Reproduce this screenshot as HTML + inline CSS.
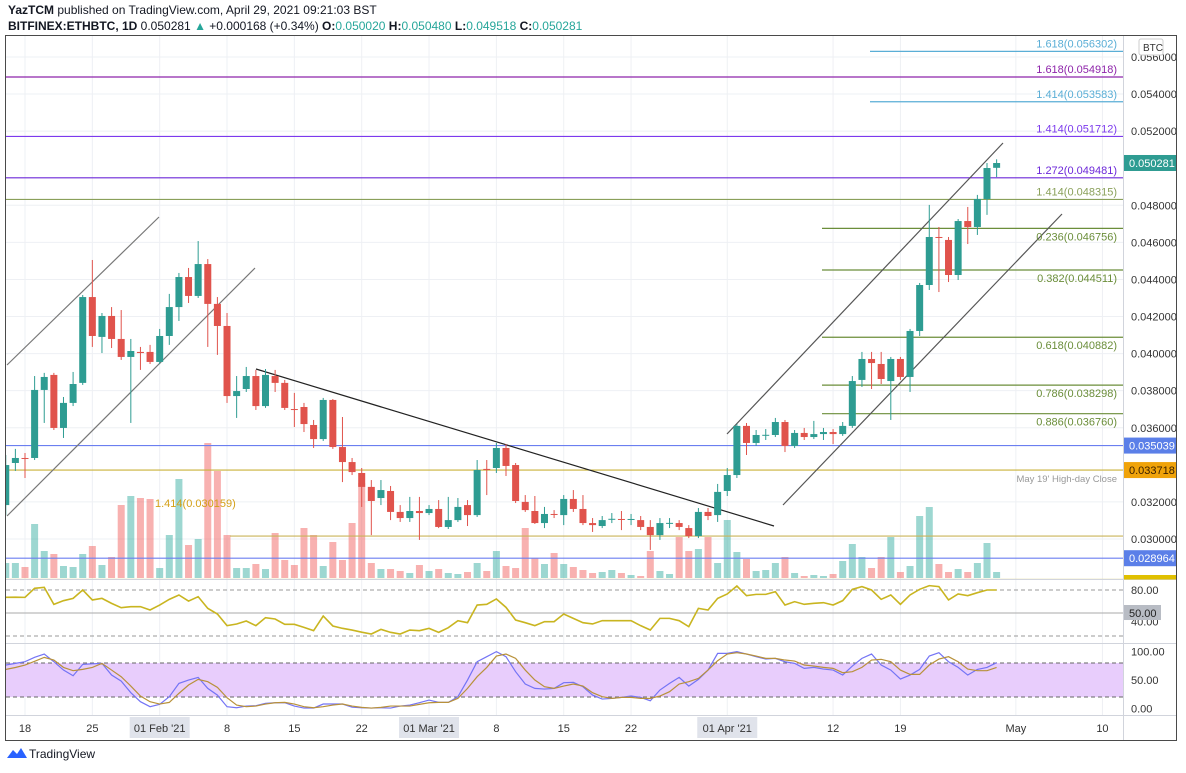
<!DOCTYPE html>
<html><head><meta charset="utf-8"><style>
html,body{margin:0;padding:0;background:#fff;}
body{width:1186px;height:768px;overflow:hidden;font-family:"Liberation Sans",sans-serif;}
svg text{font-family:"Liberation Sans",sans-serif;}
</style></head><body>
<svg id="chart" width="1186" height="768" viewBox="0 0 1186 768" xmlns="http://www.w3.org/2000/svg">
<rect x="0" y="0" width="1186" height="768" fill="#fff"/>
<text x="8" y="14" font-size="12" fill="#131722"><tspan font-weight="bold">YazTCM</tspan> published on TradingView.com, April 29, 2021 09:21:03 BST</text>
<text x="8" y="30" font-size="12" fill="#131722"><tspan font-weight="bold">BITFINEX:ETHBTC, 1D</tspan> 0.050281 <tspan fill="#26a69a">▲</tspan> +0.000168 (+0.34%) <tspan font-weight="bold">O:</tspan><tspan fill="#26a69a">0.050020</tspan> <tspan font-weight="bold">H:</tspan><tspan fill="#26a69a">0.050480</tspan> <tspan font-weight="bold">L:</tspan><tspan fill="#26a69a">0.049518</tspan> <tspan font-weight="bold">C:</tspan><tspan fill="#26a69a">0.050281</tspan></text>
<defs><clipPath id="mainClip"><rect x="6" y="36" width="1117" height="543"/></clipPath>
<clipPath id="rsiClip"><rect x="6" y="580" width="1117" height="63"/></clipPath>
<clipPath id="stClip"><rect x="6" y="644" width="1117" height="70"/></clipPath></defs>
<g id="grid"></g>
<g id="main" clip-path="url(#mainClip)"></g>
<g id="rsi" clip-path="url(#rsiClip)"></g>
<g id="stoch" clip-path="url(#stClip)"></g>
<g id="axes"></g>
<rect x="5.5" y="35.5" width="1171" height="705" fill="none" stroke="#4a4a4a" stroke-width="1"/>
<g>
<path d="M7 758 L13 750 L17 754 L21 748 L27 758 Z" fill="#2962ff"/>
<text x="29" y="758" font-size="12" fill="#131722">TradingView</text>
</g>
</svg>
<script>
const firstDay = -2; // index of first candle relative to 18 Jan 2021
const opens = [0.03183,0.03410,0.03437,0.03437,0.03804,0.03885,0.03599,0.03734,0.03842,0.04305,0.04090,0.04203,0.04079,0.03982,0.04009,0.04009,0.03955,0.04095,0.04251,0.04413,0.04311,0.04483,0.04268,0.04149,0.03771,0.03809,0.03879,0.03717,0.03879,0.03842,0.03701,0.03712,0.03615,0.03539,0.03750,0.03496,0.03415,0.03356,0.03281,0.03221,0.03259,0.03146,0.03113,0.03151,0.03140,0.03162,0.03065,0.03102,0.03183,0.03129,0.03378,0.03383,0.03491,0.03399,0.03200,0.03151,0.03086,0.03135,0.03129,0.03216,0.03162,0.03086,0.03070,0.03108,0.03108,0.03108,0.03102,0.03065,0.03021,0.03086,0.03086,0.03059,0.03016,0.03146,0.03129,0.03259,0.03345,0.03610,0.03518,0.03561,0.03561,0.03631,0.03502,0.03572,0.03550,0.03566,0.03577,0.03566,0.03610,0.03858,0.03971,0.03944,0.03852,0.03971,0.03874,0.04122,0.04370,0.04629,0.04613,0.04424,0.04715,0.04683,0.04834,0.05002];
const highs = [0.03453,0.03486,0.03464,0.03879,0.03896,0.03896,0.03766,0.03901,0.04316,0.04505,0.04219,0.04251,0.04235,0.04079,0.04036,0.04047,0.04133,0.04322,0.04435,0.04462,0.04607,0.04510,0.04305,0.04219,0.03879,0.03928,0.03912,0.03917,0.03912,0.03858,0.03788,0.03734,0.03642,0.03761,0.03755,0.03658,0.03437,0.03383,0.03318,0.03318,0.03286,0.03183,0.03227,0.03227,0.03183,0.03210,0.03227,0.03221,0.03210,0.03426,0.03426,0.03518,0.03512,0.03410,0.03237,0.03232,0.03173,0.03156,0.03237,0.03264,0.03237,0.03113,0.03124,0.03140,0.03151,0.03135,0.03124,0.03102,0.03113,0.03113,0.03102,0.03075,0.03167,0.03167,0.03297,0.03383,0.03620,0.03626,0.03588,0.03593,0.03653,0.03642,0.03588,0.03599,0.03637,0.03599,0.03593,0.03631,0.03879,0.04009,0.04009,0.04009,0.03982,0.03982,0.04133,0.04381,0.04802,0.04683,0.04629,0.04726,0.04791,0.04856,0.05028,0.05048];
const lows = [0.03129,0.03367,0.03329,0.03426,0.03626,0.03588,0.03545,0.03717,0.03831,0.04036,0.04003,0.04030,0.03966,0.03626,0.03912,0.03944,0.03944,0.04047,0.04176,0.04273,0.04300,0.04036,0.03993,0.03734,0.03653,0.03793,0.03696,0.03707,0.03793,0.03696,0.03604,0.03577,0.03491,0.03529,0.03486,0.03307,0.03345,0.03173,0.03021,0.03183,0.03102,0.03092,0.03092,0.02995,0.03129,0.03059,0.03054,0.03092,0.03070,0.03119,0.03237,0.03356,0.03340,0.03194,0.03146,0.03081,0.03059,0.03113,0.03075,0.03146,0.03075,0.03038,0.03059,0.03086,0.03048,0.03075,0.03048,0.02941,0.02995,0.03059,0.03048,0.03005,0.03005,0.03102,0.03092,0.03232,0.03329,0.03453,0.03502,0.03534,0.03550,0.03469,0.03491,0.03534,0.03539,0.03534,0.03512,0.03556,0.03599,0.03820,0.03809,0.03836,0.03642,0.03858,0.03793,0.04095,0.04343,0.04332,0.04386,0.04397,0.04591,0.04640,0.04748,0.04952];
const closes = [0.03399,0.03437,0.03435,0.03804,0.03874,0.03599,0.03734,0.03836,0.04305,0.04095,0.04203,0.04079,0.03982,0.04014,0.04003,0.03955,0.04095,0.04251,0.04413,0.04311,0.04483,0.04268,0.04149,0.03771,0.03798,0.03879,0.03717,0.03885,0.03842,0.03707,0.03700,0.03620,0.03539,0.03750,0.03496,0.03415,0.03361,0.03281,0.03205,0.03264,0.03146,0.03113,0.03151,0.03140,0.03162,0.03065,0.03102,0.03173,0.03129,0.03372,0.03375,0.03491,0.03394,0.03205,0.03156,0.03086,0.03135,0.03133,0.03216,0.03162,0.03086,0.03075,0.03102,0.03109,0.03107,0.03108,0.03065,0.03021,0.03086,0.03087,0.03065,0.03016,0.03146,0.03124,0.03254,0.03345,0.03610,0.03518,0.03561,0.03562,0.03631,0.03502,0.03572,0.03550,0.03566,0.03577,0.03566,0.03610,0.03852,0.03971,0.03949,0.03863,0.03971,0.03874,0.04122,0.04370,0.04629,0.04627,0.04424,0.04715,0.04683,0.04834,0.05001,0.05028];
const volumes = [15,15,11,54,27,24,12,11,24,32,13,21,73,82,80,79,10,43,99,33,39,135,107,43,10,10,14,9,45,18,13,50,43,12,36,18,55,95,15,9,9,7,5,13,7,9,5,4,6,15,7,27,12,10,50,20,14,25,14,11,8,5,6,8,5,3,2,27,7,4,41,27,29,41,15,58,26,19,7,8,15,21,5,2,3,2,4,17,34,21,10,21,41,6,12,62,71,14,6,9,6,15,35,6];
const rsiValues = [70.4,70.6,70.4,82.2,83.5,61.3,66.1,69.1,80.0,67.0,69.1,62.6,56.9,58.3,58.3,53.9,60.4,67.8,73.5,65.6,71.3,56.1,48.7,33.5,35.7,39.6,33.5,43.9,42.2,35.2,35.2,31.3,27.0,46.1,33.1,30.0,27.8,25.0,22.6,28.7,24.8,22.6,27.8,27.0,30.0,24.8,30.9,40.0,37.4,60.4,61.3,68.3,57.4,40.9,37.4,33.5,38.7,38.7,48.7,43.0,37.4,35.7,40.0,40.0,40.0,40.0,33.5,27.8,43.0,43.0,40.0,32.2,56.1,53.9,69.1,74.8,85.2,72.6,74.3,74.3,77.8,60.4,64.8,61.3,62.6,63.5,60.4,66.1,80.9,84.4,80.0,67.8,73.5,61.3,73.5,80.9,85.7,84.4,67.0,74.8,72.6,76.5,80.0,80.0];
const stochK = [76.4,79.3,82.2,90,95.8,82.2,67.5,57.5,77.5,78.5,79.3,58.7,48.1,27.6,11.7,2.9,7.0,20.5,44.0,49.9,54.6,35.2,23.4,2.9,1.1,4.0,4.6,8.7,9.9,9.9,4.0,0.5,0.5,7.6,7.6,7.6,2.0,1.1,0.5,1.1,0.5,4.0,5.8,9.9,14.6,10.5,10.5,20.5,49.9,82.2,91.1,100,91.1,64.6,42.9,35.2,34.0,35.2,45.2,45.8,38.1,23.4,16.4,17.6,19.3,21.7,19.3,13.4,32.3,44.0,54.6,39.3,51.1,67.5,96.9,96.9,100,95.8,91.1,87.0,88.1,82.2,79.3,70.5,72.2,69.3,67.5,58.7,74.6,88.1,95.8,76.4,67.5,51.7,58.7,68.7,92.2,98.1,82.2,72.2,58.7,68.7,72.2,80.5];
const stochD = [68.7,72,76.4,83,89.9,85.2,72.2,66.4,68.7,72.2,79.3,67.5,55.8,39.3,21.7,11.7,7.6,10.5,26.4,41.1,51.1,47.0,37.0,18.7,5.8,2.9,4.0,7.6,9.9,10.5,7.6,2.9,1.1,2.9,5.8,7.6,4.0,1.7,0.5,1.7,4.0,4.0,4.0,7.0,9.9,10.5,10.5,17.6,35.2,55.8,72.2,92.2,95.8,88.1,67.5,49.9,38.1,35.2,39.3,42.9,39.3,27.6,20.5,17.6,19.3,19.3,17.6,17.6,21.7,29.3,42.9,47.0,52.8,67.5,84.0,95.8,98.1,95.8,92.2,88.1,88.1,85.2,83.4,76.4,74.6,72.2,70.5,62.8,64.6,72.2,85.2,86.4,82.2,67.5,59.9,59.9,76.4,86.9,91.1,82.2,69.3,66.4,66.4,72.2];
const priceTicks = [0.056,0.054,0.052,0.048,0.046,0.044,0.042,0.040,0.038,0.036,0.032,0.030];
const timeTickDays = [0,7,14,21,28,35,42,49,56,63,73,84,91,103,112];
const timeTickLabels = ['18','25',"01 Feb '21",'8','15','22',"01 Mar '21",'8','15','22',"01 Apr '21",'12','19','May','10'];
const fibLevels = [0.056302,0.054918,0.053583,0.051712,0.049481,0.048315,0.046756,0.044511,0.040882,0.038298,0.036760];
const fibNames = ['1.618','1.618','1.414','1.414','1.272','1.414','0.236','0.382','0.618','0.786','0.886'];

const NS='http://www.w3.org/2000/svg';
const xOf = d => 25 + 9.62*d;
const yP = p => 539 - (p-0.030)/0.002*37.08;
const yV = v => 578 - v;
const yR = v => 590 + (80-v)*0.767;
const yS = v => 697 - (v-20)*0.567;
function mk(tag, attrs, parent, txt){
  const e=document.createElementNS(NS,tag);
  for(const k in attrs) e.setAttribute(k,attrs[k]);
  if(txt!==undefined) e.textContent=txt;
  parent.appendChild(e); return e;
}
const grid=document.getElementById('grid'), main=document.getElementById('main'),
      rsi=document.getElementById('rsi'), st=document.getElementById('stoch'), axes=document.getElementById('axes');

// grid
timeTickDays.forEach(d=>{ const g=mk('line',{x1:xOf(d),x2:xOf(d),y1:36,y2:715,stroke:'#eef0f4','stroke-width':1},grid);
  });
priceTicks.forEach(p=>{ const g=mk('line',{x1:6,x2:1123,y1:yP(p),y2:yP(p),stroke:'#eef0f4','stroke-width':1},grid);
  });

// volume
volumes.forEach((v,i)=>{ const d=firstDay+i; const up=closes[i]>=opens[i];
 const r=mk('rect',{x:xOf(d)-3.5,y:yV(v),width:7,height:v,fill:up?'rgba(38,166,154,0.45)':'rgba(239,83,80,0.45)'},main);
   });

// horizontal lines
function hline(p,x1,color,name,w){ const l=mk('line',{x1:x1,x2:1123,y1:yP(p),y2:yP(p),stroke:color,'stroke-width':w||1.2},main);
   return l; }
const fibColors=['#5aaed6','#8e24aa','#5aaed6','#7c3aed','#6d28d9','#8aa05a','#6b8e3a','#6b8e3a','#6b8e3a','#6b8e3a','#6b8e3a'];
const fibStart=[870,6,870,6,6,6,822,822,822,822,822];
fibLevels.forEach((p,i)=>{ hline(p,fibStart[i],fibColors[i],'fib-level-line');
 const below=i>=6; const t=mk('text',{x:1117,y:below?yP(p)+12:yP(p)-4,'font-size':11,fill:fibColors[i],'text-anchor':'end'},axes,fibNames[i]+'('+p.toFixed(6)+')');
   });
hline(0.035039,6,'#6b7ff0','support-line-035039');
hline(0.033718,6,'#c9b23a','may19-high-close-line');
hline(0.030159,230,'#c9b45a','fib-1414-030159-line');
hline(0.028964,6,'#6b7ff0','support-line-028964');
hline(0.027815,6,'#c9b23a','support-line-027815');
{const t=mk('text',{x:1117,y:yP(0.033718)+12,'font-size':9.5,fill:'#999','text-anchor':'end'},axes,"May 19' High-day Close");
 }
{const t=mk('text',{x:155,y:507,'font-size':11,fill:'#d4a017'},main,'1.414(0.030159)');
 }

// trendlines
[[7,365,159,217,'#777'],[7,516,255,268,'#777'],[256,369,774,526,'#222'],[727,434,1003,143,'#555'],[783,505,1062,214,'#555']].forEach(s=>{
 const l=mk('line',{x1:s[0],y1:s[1],x2:s[2],y2:s[3],stroke:s[4],'stroke-width':1.2},main);
   });

// candles
opens.forEach((o,i)=>{ const d=firstDay+i, c=closes[i], up=c>=o, col=up?'#2e9c92':'#e0534c', x=xOf(d);
 const w=mk('line',{x1:x,x2:x,y1:yP(highs[i]),y2:yP(lows[i]),stroke:col,'stroke-width':1},main);
  
 const top=yP(Math.max(o,c)), bot=yP(Math.min(o,c));
 const b=mk('rect',{x:x-3.5,y:top,width:7,height:Math.max(1,bot-top),fill:col},main);
   });

// RSI pane
[[80,'4 3','#999'],[50,'','#aaa'],[20,'4 3','#999']].forEach(a=>{ const l=mk('line',{x1:6,x2:1123,y1:yR(a[0]),y2:yR(a[0]),stroke:a[2],'stroke-dasharray':a[1]},rsi);
   });
{const pts=rsiValues.map((v,i)=>xOf(firstDay+i)+','+yR(v)).join(' ');
 const l=mk('polyline',{points:pts,fill:'none',stroke:'#c9b520','stroke-width':1.6},rsi);
  }

// Stoch pane
{const r=mk('rect',{x:6,y:yS(80),width:1117,height:yS(20)-yS(80),fill:'#e8cdfc'},st);
 }
[80,20].forEach(v=>{ const l=mk('line',{x1:6,x2:1123,y1:yS(v),y2:yS(v),stroke:'#666','stroke-dasharray':'4 3'},st);
   });
{const l=mk('polyline',{points:stochK.map((v,i)=>xOf(firstDay+i)+','+yS(v)).join(' '),fill:'none',stroke:'#7474f5','stroke-width':1.2},st);
  }
{const l=mk('polyline',{points:stochD.map((v,i)=>xOf(firstDay+i)+','+yS(v)).join(' '),fill:'none',stroke:'#b8913a','stroke-width':1.2},st);
  }

// separators
[[6,1177,579.5,579.5],[6,1177,643.5,643.5],[6,1177,715.5,715.5],[1123.5,1123.5,36,741]].forEach(s=>{
 const l=mk('line',{x1:s[0],x2:s[1],y1:s[2],y2:s[3],stroke:'#d1d4dc'},axes);
   });

// price axis
priceTicks.forEach(p=>{ const t=mk('text',{x:1131,y:yP(p)+4,'font-size':11,fill:'#333'},axes,p.toFixed(6));
   });
function tag(p,bg,fg,label){ const y=yP(p);
 const r=mk('rect',{x:1124,y:y-8,width:53,height:16,fill:bg},axes);  
 const t=mk('text',{x:1129,y:y+4,'font-size':11,fill:fg},axes,label);   }
tag(0.050281,'#2e9c92','#fff','0.050281');
tag(0.035039,'#5b7fe8','#fff','0.035039');
tag(0.033718,'#f0a30a','#3a2000','0.033718');
tag(0.028964,'#5b7fe8','#fff','0.028964');
{const r=mk('rect',{x:1124,y:575,width:53,height:4.5,fill:'#e0c000'},axes);  }
{const r=mk('rect',{x:1139,y:39,width:24,height:16,fill:'#fff',stroke:'#ccc',rx:2},axes);  
 const t=mk('text',{x:1143,y:51,'font-size':10,fill:'#333'},axes,'BTC');  }
// RSI axis
{const t=mk('text',{x:1131,y:yR(80)+4,'font-size':11,fill:'#333'},axes,'80.00');  }
{const t=mk('text',{x:1131,y:yR(40)+5,'font-size':11,fill:'#333'},axes,'40.00');  }
{const r=mk('rect',{x:1124,y:yR(50)-8,width:37,height:15,fill:'#b8bcc4'},axes);  
 const t=mk('text',{x:1129,y:yR(50)+4,'font-size':11,fill:'#222'},axes,'50.00');  }
[[100,'100.00'],[50,'50.00'],[0,'0.00']].forEach(a=>{ const t=mk('text',{x:1131,y:yS(a[0])+4,'font-size':11,fill:'#333'},axes,a[1]);
   });
// time axis
timeTickDays.forEach((d,i)=>{ const lab=timeTickLabels[i], x=xOf(d), boxed=lab.indexOf("'")>=0;
 if(boxed){ const r=mk('rect',{x:x-30,y:717,width:60,height:21,fill:'#e0e3eb'},axes);   }
 const t=mk('text',{x:x,y:732,'font-size':11,fill:'#333','text-anchor':'middle'},axes,lab);
   });
</script>
</body></html>
